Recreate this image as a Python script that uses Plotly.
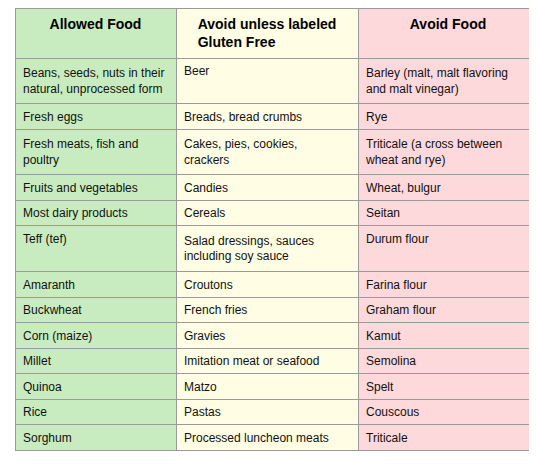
import plotly.graph_objects as go

headers = ["<b>Allowed Food</b>", "<b>Avoid unless labeled<br>Gluten Free</b>", "<b>Avoid Food</b>"]
allowed = ["Beans, seeds, nuts in their<br>natural, unprocessed form", "Fresh eggs", "Fresh meats, fish and<br>poultry",
           "Fruits and vegetables", "Most dairy products", "Teff (tef)", "Amaranth", "Buckwheat", "Corn (maize)",
           "Millet", "Quinoa", "Rice", "Sorghum"]
avoid_unless = ["Beer", "Breads, bread crumbs", "Cakes, pies, cookies,<br>crackers", "Candies", "Cereals",
                "Salad dressings, sauces<br>including soy sauce", "Croutons", "French fries", "Gravies",
                "Imitation meat or seafood", "Matzo", "Pastas", "Processed luncheon meats"]
avoid = ["Barley (malt, malt flavoring<br>and malt vinegar)", "Rye", "Triticale (a cross between<br>wheat and rye)",
         "Wheat, bulgur", "Seitan", "Durum flour", "Farina flour", "Graham flour", "Kamut", "Semolina", "Spelt",
         "Couscous", "Triticale"]

green, yellow, pink = "#c8ecc0", "#fffde3", "#fdd9dc"
fig = go.Figure(go.Table(
    columnwidth=[161, 182, 180],
    header=dict(values=headers, fill_color=[green, yellow, pink], line_color="#9a9a9a",
                font=dict(family="Liberation Sans", size=14, color="black"), align="center", height=48),
    cells=dict(values=[allowed, avoid_unless, avoid], fill_color=[green, yellow, pink], line_color="#9a9a9a",
               font=dict(family="Liberation Sans", size=12, color="#111"), align="left", height=25.5),
))
fig.update_layout(width=537, height=465, margin=dict(l=7, r=7, t=0, b=0), paper_bgcolor="white")
fig.write_html("out.html")
